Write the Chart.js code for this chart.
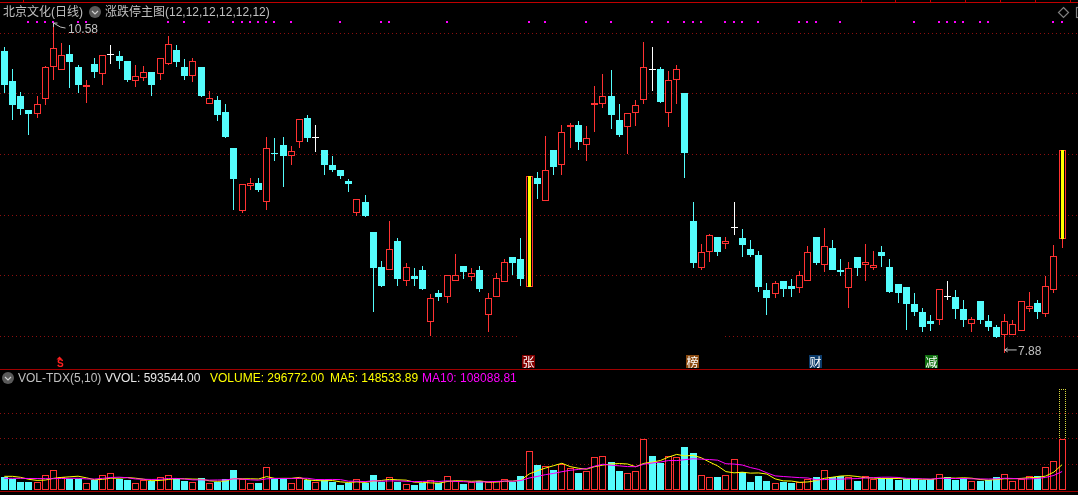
<!DOCTYPE html>
<html>
<head>
<meta charset="utf-8">
<script src="https://cdn.jsdelivr.net/npm/chart.js@4"></script>
<style>
    html, body { margin: 0; padding: 0; background: #000; overflow: hidden; }
    #wrap { position: relative; width: 1078px; height: 495px; overflow: hidden; }
    canvas { position: absolute; left: 0; top: 0; }
    .t {
        position: absolute; white-space: nowrap; font-size: 12px; line-height: 14px;
        font-family: "Liberation Sans", "Noto Sans CJK SC", sans-serif; color: #c0c0c0;
    }
    .tag { width: 13px; height: 13px; line-height: 13px; text-align: center; color: #fff; top: 355px; font-family: "Noto Sans CJK SC", sans-serif; }
</style>
</head>
<body>
<div id="wrap">
    <canvas id="kline" width="1078" height="495"></canvas>
    <span class="t" style="left:3px;top:5px">北京文化(日线)</span>
    <span class="t" style="left:105px;top:5px">涨跌停主图(12,12,12,12,12,12)</span>
    <span class="t" style="left:68px;top:22px">10.58</span>
    <span class="t" style="left:1018px;top:344px">7.88</span>
    <span class="t" style="left:18px;top:371px">VOL-TDX(5,10)</span>
    <span class="t" style="left:105px;top:371px;color:#e8e8e8">VVOL: 593544.00</span>
    <span class="t" style="left:210px;top:371px;color:#ffff00">VOLUME: 296772.00</span>
    <span class="t" style="left:330px;top:371px;color:#ffff00">MA5: 148533.89</span>
    <span class="t" style="left:422px;top:371px;color:#ff00ff">MA10: 108088.81</span>
    <span class="t" style="left:57px;top:357px;color:#ff2020;font-size:10px;font-weight:bold">S</span>
    <span class="t tag" style="left:522px;background:#800000">张</span>
    <span class="t tag" style="left:686px;background:#8a4a10">榜</span>
    <span class="t tag" style="left:809px;background:#0a3a6a">财</span>
    <span class="t tag" style="left:925px;background:#107010">减</span>
</div>
<script>
const opens = [10.34,10.10,9.98,9.86,9.83,9.95,10.21,10.19,10.32,10.21,
    10.05,10.24,10.16,10.31,10.30,10.26,10.10,10.12,10.17,10.16,
    10.24,10.35,10.21,10.14,10.21,9.91,9.94,9.85,9.55,9.04,
    9.24,9.27,9.11,9.51,9.58,9.49,9.60,9.80,9.63,9.54,
    9.41,9.37,9.28,9.02,9.11,8.87,8.58,8.56,8.79,8.47,
    8.51,8.56,8.13,8.37,8.34,8.47,8.59,8.50,8.56,8.19,
    8.34,8.46,8.66,8.65,8.42,9.31,9.12,9.54,9.41,9.72,
    9.74,9.58,9.90,9.91,9.98,9.78,9.72,9.84,9.94,10.19,
    10.20,9.84,10.11,10.00,8.96,8.57,8.70,8.83,8.77,8.90,
    8.82,8.73,8.68,8.39,8.36,8.47,8.43,8.41,8.47,8.83,
    8.60,8.74,8.56,8.41,8.66,8.60,8.57,8.70,8.58,8.44,
    8.42,8.28,8.21,8.14,8.15,8.34,8.34,8.24,8.12,8.30,
    8.14,8.09,8.03,8.03,8.06,8.24,8.29,8.20,8.39,8.81];
const closes = [10.07,9.90,9.87,9.83,9.91,10.21,10.37,10.31,10.25,10.07,
    10.07,10.17,10.31,10.31,10.26,10.11,10.14,10.17,10.07,10.29,
    10.40,10.25,10.14,10.26,9.98,9.96,9.82,9.64,9.30,9.26,
    9.27,9.21,9.55,9.50,9.49,9.53,9.79,9.63,9.63,9.41,
    9.37,9.32,9.26,9.14,9.00,8.57,8.43,8.73,8.48,8.58,
    8.48,8.40,8.33,8.34,8.52,8.52,8.54,8.53,8.40,8.33,
    8.49,8.62,8.61,8.48,9.32,9.26,9.37,9.40,9.68,9.74,
    9.60,9.63,9.92,9.98,9.82,9.66,9.84,9.90,10.21,10.19,
    9.93,10.11,10.20,9.51,8.61,8.70,8.84,8.70,8.79,8.90,
    8.76,8.68,8.42,8.33,8.45,8.40,8.40,8.52,8.70,8.61,
    8.75,8.56,8.54,8.57,8.57,8.62,8.60,8.67,8.38,8.37,
    8.28,8.21,8.09,8.12,8.40,8.34,8.24,8.15,8.16,8.15,
    8.09,8.01,8.14,8.12,8.30,8.26,8.21,8.43,8.67,9.54];
const highs = [10.38,10.20,10.01,9.86,9.98,10.22,10.58,10.41,10.39,10.23,
    10.11,10.29,10.31,10.39,10.34,10.26,10.23,10.22,10.17,10.29,
    10.47,10.39,10.28,10.29,10.21,10.02,9.98,9.91,9.55,9.26,
    9.31,9.31,9.64,9.63,9.64,9.57,9.79,9.82,9.74,9.54,
    9.49,9.37,9.30,9.14,9.17,8.87,8.63,8.96,8.82,8.61,
    8.57,8.59,8.36,8.39,8.52,8.69,8.59,8.57,8.59,8.37,
    8.53,8.65,8.66,8.82,9.32,9.36,9.65,9.54,9.74,9.76,
    9.77,9.73,10.06,10.16,10.19,9.91,9.84,9.94,10.42,10.38,
    10.21,10.18,10.23,10.00,9.11,8.77,8.85,8.83,8.83,9.11,
    8.89,8.80,8.71,8.45,8.47,8.47,8.48,8.55,8.75,8.83,
    8.90,8.80,8.65,8.62,8.66,8.77,8.71,8.75,8.65,8.44,
    8.42,8.37,8.25,8.19,8.40,8.47,8.39,8.31,8.17,8.30,
    8.19,8.11,8.20,8.15,8.30,8.38,8.31,8.51,8.76,9.54];
const lows = [10.00,9.78,9.82,9.66,9.80,9.90,10.11,10.19,10.04,10.00,
    9.92,10.12,10.07,10.24,10.20,10.09,10.05,10.10,9.98,10.11,
    10.23,10.21,10.11,10.09,9.97,9.91,9.77,9.63,9.05,9.02,
    9.21,9.19,9.05,9.45,9.23,9.41,9.55,9.60,9.52,9.33,
    9.36,9.30,9.19,9.00,8.99,8.21,8.42,8.56,8.43,8.43,
    8.43,8.39,8.02,8.30,8.29,8.47,8.48,8.47,8.38,8.05,
    8.34,8.46,8.52,8.43,8.42,9.14,9.12,9.33,9.33,9.55,
    9.54,9.45,9.68,9.88,9.71,9.64,9.50,9.73,9.91,10.02,
    9.92,9.72,9.91,9.31,8.57,8.56,8.62,8.67,8.73,8.84,
    8.66,8.66,8.38,8.19,8.33,8.34,8.34,8.37,8.47,8.60,
    8.54,8.56,8.51,8.25,8.51,8.47,8.56,8.58,8.37,8.29,
    8.07,8.18,8.05,8.06,8.11,8.31,8.16,8.09,8.05,8.12,
    8.06,8.00,7.88,8.03,8.06,8.21,8.16,8.17,8.37,8.74];
const volumes = [76150,64430,46860,46860,46860,85910,115200,74190,64430,64430,
    39050,58570,85910,97620,64430,58570,39050,56620,52720,74190,
    85910,62480,52720,44910,70290,39050,46860,62480,117150,62480,
    39050,41000,132770,64430,64430,39050,68340,58570,44910,58570,
    46860,29290,41000,62480,41000,87860,46860,74190,46860,33190,
    29290,41000,56620,41000,80050,52720,35140,44910,52720,46860,
    50760,62480,46860,82000,226480,146430,140580,117150,152290,128860,
    99580,111290,191340,197200,164010,111290,97620,111290,296000,199150,
    158150,197200,191340,251870,216720,85910,74190,76150,85910,179630,
    105430,46860,82000,52720,39050,46860,41000,44910,64430,76150,
    115200,74190,80050,74190,52720,80050,62480,68340,68340,58570,
    64430,64430,58570,62480,91770,76150,58570,68340,50760,52720,
    58570,76150,91770,50760,62480,80050,82000,132770,167910,296772];
const ma5 = [80050,80050,74190,62480,56200,58200,68300,73800,77300,80800,
    71500,60100,62500,69100,69100,73000,69100,63300,54300,56200,
    61700,66400,65600,64000,63300,53900,50800,52700,67200,65600,
    65600,64400,78500,67900,68300,68300,73800,59000,55100,53900,
    55500,47600,44100,47600,44100,52300,55800,62500,59400,57800,
    46100,44900,41400,40200,49600,54300,53100,50800,53100,46500,
    46100,51500,51900,57800,93700,112900,128500,142500,156600,137100,
    127700,121800,136700,145700,152700,155000,152300,136300,156200,163200,
    172600,192500,208500,199500,203100,188600,164000,141000,107800,100400,
    104300,98800,100000,93300,65200,53500,52300,44900,47300,54700,
    68300,75000,82000,84000,79300,72200,69900,67600,66400,67600,
    64400,64800,62900,61700,68300,70700,69500,71500,69100,61300,
    57800,61300,66000,66000,67900,72200,73400,81600,105000,148534];
const ma10 = [68300,68300,68300,67400,67400,66400,66400,67400,68300,68500,
    64800,64200,68100,73200,75000,72200,64600,62900,61700,62700,
    67400,67800,64400,59200,59700,57800,58600,59200,65600,64400,
    59700,57600,65600,67600,67000,67000,69100,68700,61500,61100,
    61900,60700,51500,51400,49000,53900,51700,53300,53500,51000,
    49200,50400,51900,49800,53700,50200,49000,46100,46700,48000,
    50200,52300,51400,55500,70100,79500,90000,97200,107200,115400,
    120300,125200,139600,151100,144900,141400,137100,136500,150900,158000,
    163800,172400,172400,177900,183100,180600,178300,174700,153700,151700,
    146400,131400,120500,100600,82800,78900,75600,72400,70300,59900,
    60900,63700,63500,65600,67000,70300,72400,74800,75200,73400,
    68300,67400,65200,64000,67900,67600,67200,67200,65400,64800,
    64200,65400,68700,67600,64600,65000,67400,73800,85500,108089];
const signalDays = [3,4,5,6,9,10,20,22,25,28,29,30,31,32,33,35,41,46,47,54,64,66,71,74,79,81,83,84,85,
    88,89,90,92,97,98,99,102,111,114,115,116,117,119,120,128,129];
const limitUpDays = [64,129];
const priceGrid = [10.49,10.00,9.50,9.00,8.51,8.015];
const volumeGrid = [450000,300000,150000];
const lastVvol = 593544;
const highDay = 6, highPrice = 10.58;
const lowDay = 122, lowPrice = 7.88;

const RED = '#ff3232', CYAN = '#54fcfc', WHITE = '#ffffff';
const labels = opens.map((_, i) => i + 1);

function candleColor(i) {
    if (opens[i] === closes[i]) return WHITE;
    return closes[i] > opens[i] ? RED : CYAN;
}

function volumeColor(i) {
    if (closes[i] !== opens[i]) return closes[i] > opens[i] ? RED : CYAN;
    return closes[i] >= closes[i - 1] ? RED : CYAN;
}

function isHollow(color) {
    return color === RED;
}

const candleColors = labels.map((_, i) => candleColor(i));
const volumeColors = labels.map((_, i) => volumeColor(i));

// all bars share one slot and sit on whole pixels, the reference has no antialiasing
const snapBars = {
    id: 'snapBars',
    beforeDatasetsDraw(chart) {
        const xs = chart.scales.x;
        chart.getSortedVisibleDatasetMetas().forEach(meta => {
            if (meta.type !== 'bar') return;
            const thick = chart.data.datasets[meta.index].barThickness;
            meta.data.forEach((el, i) => {
                if (!isFinite(el.y) || !isFinite(el.base)) return;
                const px = Math.floor(xs.getPixelForValue(i));
                el.width = thick;
                el.x = thick % 2 === 0 ? px : px + 0.5;
                el.y = Math.round(el.y);
                el.base = Math.round(el.base);
                if (el.y === el.base) el.y = el.base - 1;
            });
        });
    }
};

function dottedLine(ctx, y, x0, x1, color) {
    ctx.fillStyle = color;
    for (let x = x0; x < x1; x += 4) ctx.fillRect(x, Math.floor(y), 1, 1);
}

function circleIcon(ctx, x, y) {
    ctx.fillStyle = '#5a5a5a';
    ctx.beginPath();
    ctx.arc(x, y, 6, 0, Math.PI * 2);
    ctx.fill();
    ctx.strokeStyle = '#d0d0d0';
    ctx.lineWidth = 1.2;
    ctx.beginPath();
    ctx.moveTo(x - 3, y - 1);
    ctx.lineTo(x, y + 2);
    ctx.lineTo(x + 3, y - 1);
    ctx.stroke();
}

const frame = {
    id: 'frame',
    beforeDatasetsDraw(chart) {
        const ctx = chart.ctx;
        const price = chart.scales.y;
        const vol = chart.scales.yVol;
        ctx.save();
        priceGrid.forEach((p, i) => {
            const y = price.getPixelForValue(p);
            if (i === priceGrid.length - 1) {
                dottedLine(ctx, y, 0, 518, '#8c0f0f');
                dottedLine(ctx, y, 725, 1078, '#8c0f0f');
            } else {
                dottedLine(ctx, y, 0, 1078, '#8c0f0f');
            }
        });
        volumeGrid.forEach(v => dottedLine(ctx, vol.getPixelForValue(v), 0, 1078, '#8c0f0f'));
        ctx.fillStyle = '#c00000';
        ctx.fillRect(0, 2, 1078, 1);
        [861, 895, 930, 965, 1000, 1035, 1070].forEach(x => ctx.fillRect(x, 0, 1, 2));
        ctx.fillRect(23, 0, 1, 2);
        ctx.fillStyle = '#a00000';
        ctx.fillRect(0, 369, 1078, 1);
        ctx.fillRect(0, 491, 1078, 1);
        ctx.restore();
    },
    afterDatasetsDraw(chart) {
        const ctx = chart.ctx;
        const x = chart.scales.x;
        const price = chart.scales.y;
        const vol = chart.scales.yVol;
        ctx.save();

        // dotted box of the last bar, up to the VVOL value
        const bx = Math.floor(x.getPixelForValue(labels.length - 1)) - 3;
        const top = Math.round(vol.getPixelForValue(lastVvol));
        const bottom = Math.round(vol.getPixelForValue(volumes[volumes.length - 1]));
        ctx.fillStyle = '#d8d840';
        for (let y = top; y < bottom; y += 2) {
            ctx.fillRect(bx, y, 1, 1);
            ctx.fillRect(bx + 6, y, 1, 1);
        }
        for (let k = 0; k < 7; k += 2) ctx.fillRect(bx + k, top, 1, 1);

        // arrows to the high and low labels
        ctx.strokeStyle = '#c0c0c0';
        ctx.lineWidth = 1;
        const hx = x.getPixelForValue(highDay), hy = price.getPixelForValue(highPrice);
        ctx.beginPath();
        ctx.moveTo(hx, hy + 1);
        ctx.lineTo(hx + 7, hy + 5);
        ctx.lineTo(hx + 12, hy + 6);
        ctx.moveTo(hx, hy + 1);
        ctx.lineTo(hx + 4, hy + 1);
        ctx.moveTo(hx, hy + 1);
        ctx.lineTo(hx, hy + 5);
        ctx.stroke();
        const lx = x.getPixelForValue(lowDay), ly = price.getPixelForValue(lowPrice) - 3;
        ctx.beginPath();
        ctx.moveTo(lx, ly);
        ctx.lineTo(lx + 12, ly);
        ctx.moveTo(lx, ly);
        ctx.lineTo(lx + 3, ly - 2);
        ctx.moveTo(lx, ly);
        ctx.lineTo(lx + 3, ly + 2);
        ctx.stroke();

        circleIcon(ctx, 95, 12);
        circleIcon(ctx, 8, 378);

        // small triangle above the S mark
        ctx.fillStyle = '#ff2020';
        ctx.beginPath();
        ctx.moveTo(59.5, 356.5);
        ctx.lineTo(56.5, 359.5);
        ctx.lineTo(62.5, 359.5);
        ctx.fill();

        // toolbar shapes in the top right corner
        ctx.strokeStyle = '#808080';
        ctx.beginPath();
        ctx.moveTo(1063.5, 7.5);
        ctx.lineTo(1068.5, 12.5);
        ctx.lineTo(1063.5, 17.5);
        ctx.lineTo(1058.5, 12.5);
        ctx.closePath();
        ctx.stroke();
        ctx.strokeRect(1076.5, 7.5, 6, 10);
        ctx.restore();
    }
};

const ctx = document.getElementById('kline').getContext('2d');

new Chart(ctx, {
    type: 'bar',
    data: {
        labels: labels,
        datasets: [
            {
                data: labels.map((_, i) => [lows[i], highs[i]]),
                backgroundColor: candleColors,
                barThickness: 1,
                inflateAmount: 0,
                grouped: false,
                order: 5
            },
            {
                data: labels.map((_, i) => [opens[i], closes[i]]),
                backgroundColor: candleColors.map(c => isHollow(c) ? '#000000' : c),
                borderColor: candleColors,
                borderWidth: 1,
                borderSkipped: false,
                barThickness: 7,
                inflateAmount: 0,
                grouped: false,
                order: 4
            },
            {
                data: labels.map((_, i) => limitUpDays.includes(i) ? [opens[i], closes[i]] : null),
                backgroundColor: '#ffff00',
                barThickness: 3,
                inflateAmount: 0,
                grouped: false,
                order: 3
            },
            {
                data: labels.map((_, i) => signalDays.includes(i) ? [highPrice - 0.01, highPrice + 0.01] : null),
                backgroundColor: '#ff00ff',
                barThickness: 2,
                inflateAmount: 0,
                grouped: false,
                order: 2
            },
            {
                data: volumes,
                yAxisID: 'yVol',
                backgroundColor: volumeColors.map(c => isHollow(c) ? '#000000' : c),
                borderColor: volumeColors,
                borderWidth: 1,
                borderSkipped: false,
                barThickness: 7,
                inflateAmount: 0,
                grouped: false,
                order: 6
            },
            {
                type: 'line',
                data: ma5,
                yAxisID: 'yVol',
                borderColor: '#ffff00',
                borderWidth: 1,
                pointRadius: 0,
                tension: 0,
                order: 1
            },
            {
                type: 'line',
                data: ma10,
                yAxisID: 'yVol',
                borderColor: '#ff00ff',
                borderWidth: 1,
                pointRadius: 0,
                tension: 0,
                order: 0
            }
        ]
    },
    options: {
        responsive: false,
        animation: false,
        events: [],
        layout: { padding: { left: 0.2, right: 11.8, top: 0, bottom: 0 } },
        plugins: { legend: { display: false }, tooltip: { enabled: false } },
        scales: {
            x: { display: false, offset: true },
            y: { display: false, min: 6.7208, max: 10.76 },
            yVol: { display: false, min: -29285, max: 2870000 }
        }
    },
    plugins: [snapBars, frame]
});
</script>
</body>
</html>
